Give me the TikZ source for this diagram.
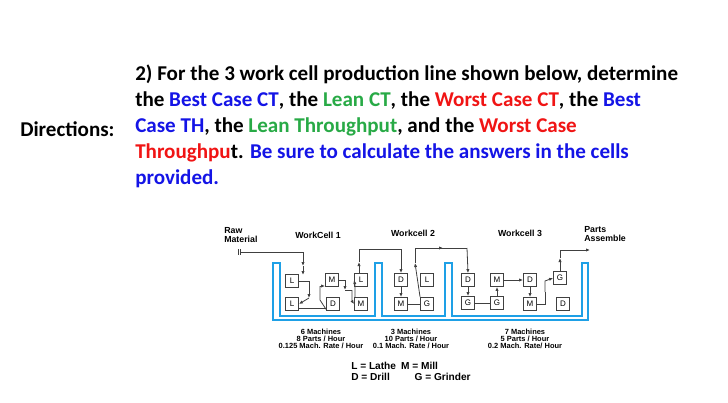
\documentclass[tikz,border=0pt]{standalone}
\usepackage{fontspec}
\setmainfont{Carlito}
\newfontfamily\arialb{Liberation Sans}
\usetikzlibrary{arrows.meta}
\definecolor{tblue}{RGB}{20,20,230}
\definecolor{tgreen}{RGB}{40,170,70}
\definecolor{tred}{RGB}{240,20,20}
\definecolor{wall}{RGB}{30,160,230}
\begin{document}
\begin{tikzpicture}[x=0.75pt,y=-0.75pt,
 mach/.style={draw=black!75,fill=white,minimum size=10pt,inner sep=0pt,font=\arialb\fontsize{6}{6}\selectfont},
 lbl/.style={font=\arialb\bfseries\fontsize{6.6}{7}\selectfont,align=center,inner sep=0pt},
 sm/.style={font=\arialb\bfseries\fontsize{5.6}{5.2}\selectfont,align=center,inner sep=0pt},
 fl/.style={draw=black!75,line width=0.6pt,-{Latex[length=3pt,width=2.5pt]}},
 ln/.style={draw=black!75,line width=0.6pt}]
\useasboundingbox (0,0) rectangle (728,403);
\node[anchor=north west,align=left,inner sep=0pt,font=\bfseries\fontsize{15.8}{19.5}\selectfont] (q) at (135,65) {2) For the 3 work cell production line shown below, determine\\
the \textcolor{tblue}{Best Case CT}, the \textcolor{tgreen}{Lean CT}, the \textcolor{tred}{Worst Case CT}, the \textcolor{tblue}{Best}\\
\textcolor{tblue}{Case TH}, the \textcolor{tgreen}{Lean Throughput}, and the \textcolor{tred}{Worst Case}\\
\textcolor{tred}{Throughpu}t. \textcolor{tblue}{Be sure to calculate the answers in the cells}\\
\textcolor{tblue}{provided.}};
\node[anchor=west,inner sep=0pt,font=\bfseries\fontsize{15.8}{16}\selectfont] (dir) at (20,129) {Directions:};
% walls
\draw[wall,line width=1.5pt] (280,263)--(280,316)--(375,316)--(375,263)--(382,263)--(382,316)--(445,316)--(445,263)--(452,263)--(452,316)--(582,316)--(582,263)--(588,263)--(588,320)--(273,320)--(273,263)--cycle;
% labels
\node[lbl,align=left,anchor=north west] (raw) at (224,227) {Raw\\Material};
\node[lbl] (w1) at (318,235) {WorkCell 1};
\node[lbl] (w2) at (413,233) {Workcell 2};
\node[lbl] (w3) at (520,233) {Workcell 3};
\node[lbl,align=left,anchor=north west] (pa) at (584,226) {Parts\\Assemble};
% machines
\node[mach] (a1) at (292,281) {L};
\node[mach] (a2) at (292,304) {L};
\node[mach] (a3) at (332,280) {M};
\node[mach] (a4) at (333,304) {D};
\node[mach] (a5) at (361,280) {L};
\node[mach] (a6) at (361,304) {M};
\node[mach] (b1) at (401,280) {D};
\node[mach] (b2) at (427,280) {L};
\node[mach] (b3) at (401,304) {M};
\node[mach] (b4) at (427,304) {G};
\node[mach] (c1) at (468,280) {D};
\node[mach] (c2) at (497,280) {M};
\node[mach] (c3) at (530,280) {D};
\node[mach] (c4) at (560,278) {G};
\node[mach] (c5) at (468,303) {G};
\node[mach] (c6) at (497,303) {G};
\node[mach] (c7) at (530,304) {M};
\node[mach] (c8) at (563,304) {D};
% flows
\coordinate (in) at (240,252);
\draw[ln] (238,249)--(238,255) (240,249)--(240,255);
\draw[fl] (in) -- (303,252) -- (303,266);
\draw[fl] (303,266) -- (303,275);
\draw[ln] (a1.east) -- (309,281);
\draw[fl] (309,281) -- (309,298);
\draw[fl] (309,298) -- (a2.east);
\draw[ln] (298,308) -- (a4.west|-0,308);
\draw[ln] (a4.west) ++(0,-4pt) coordinate (d1) -- (320,300) -- (320,286);
\draw[fl] (320,286) -- (a3.west|-0,286);
\draw[ln] (a3.east) -- (345,280);
\draw[fl] (345,280) -- (345,290);
\draw[ln] (345,290) -- (352,290);
\draw[fl] (352,290) -- (352,301) -- (a6.west);
\draw[fl] (a6.north west) ++(1,0) -- (355,285) -- (a5.west);
\draw[fl] (a5.north) ++(-2,0) -- (359,262);
\draw[ln] (359,262) -- (359,249) -- (401,249);
\draw[fl] (401,249) -- (b1.north);
\draw[fl] (b1) -- (b3);
\draw[ln] (b3) -- (b4);
\draw[fl] (b4.north west) -- (415,263);
\draw[ln] (415,263) -- (415,248) -- (443,248);
\draw[fl] (435,248) -- (443,248);
\draw[ln] (443,248) -- (467,248);
\draw[fl] (467,248) -- (c1.north);
\draw[fl] (c1) -- (c5);
\draw[ln] (c5) -- (c6);
\draw[fl] (c6) -- (c2);
\draw[fl] (c2) -- (c3);
\draw[fl] (c3) -- (c7);
\draw[ln] (c7.east) -- (545,304) -- (545,292);
\draw[fl] (545,292) -- (545,281) -- (c4.west);
\draw[fl] (c4.north) -- (560,258);
\draw[ln] (560,258) -- (560,250) -- (575,250);
\draw[fl] (575,250) -- (590,250);
% stats
\node[sm] (s1) at (321,339) {6 Machines\\8 Parts / Hour\\0.125 Mach. Rate / Hour};
\node[sm] (s2) at (411,339) {3 Machines\\10 Parts / Hour\\0.1 Mach. Rate / Hour};
\node[sm] (s3) at (525,339) {7 Machines\\5 Parts / Hour\\0.2 Mach. Rate/ Hour};
\node[anchor=north west,inner sep=0pt,font=\arialb\bfseries\fontsize{7.6}{8}\selectfont,align=left] (leg) at (351,362) {L = Lathe\enspace M = Mill\\D = Drill\qquad\, G = Grinder};
\end{tikzpicture}
\end{document}
